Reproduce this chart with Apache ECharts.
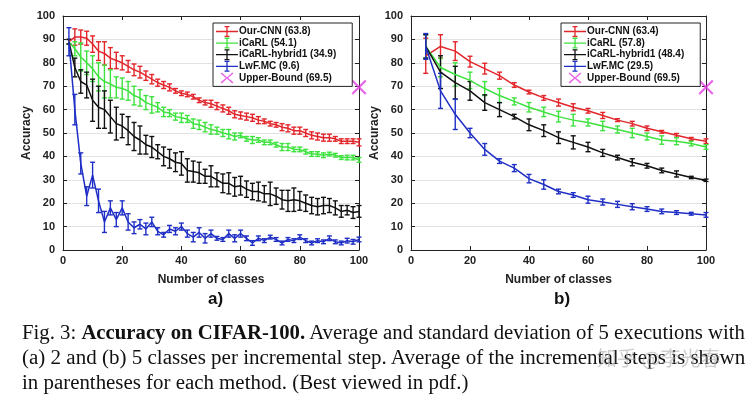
<!DOCTYPE html>
<html>
<head>
<meta charset="utf-8">
<script src="https://cdn.jsdelivr.net/npm/echarts@6/dist/echarts.min.js"></script>
<style>
  html, body { margin: 0; padding: 0; background: #fff; }
  #main { position: absolute; left: 0; top: 0; width: 753px; height: 398px; }
  #cap { position: absolute; left: 22px; top: 320px; width: 723px; font-family: 'Liberation Serif', serif; font-size: 20px; line-height: 25px; color: #111; }
  #cap .ln { white-space: nowrap; display: inline-block; transform-origin: 0 0; }
  #wm { position: absolute; left: 597px; top: 343px; font-family: 'Noto Sans CJK SC', sans-serif; font-size: 20px; color: rgba(165,165,165,0.55); }
</style>
</head>
<body>
<div id="main"></div>
<div id="cap">
  <span class="ln">Fig. 3: <b>Accuracy on CIFAR-100.</b> Average and standard deviation of 5 executions with</span><br>
  <span class="ln">(a) 2 and (b) 5 classes per incremental step. Average of the incremental steps is shown</span><br>
  <span class="ln">in parentheses for each method. (Best viewed in pdf.)</span>
</div>
<div id="wm">知乎 @李光春</div>
<script>
// 数据 a) 每步 2 类
var xA = [2,4,6,8,10,12,14,16,18,20,22,24,26,28,30,32,34,36,38,40,42,44,46,48,50,
          52,54,56,58,60,62,64,66,68,70,72,74,76,78,80,82,84,86,88,90,92,94,96,98,100];
var ourA = [89,91,91,90.5,88,85,84,82,81,80, 78.5,77,76,74.5,73,71.5,70.5,69.5,68,67,
            66.5,65.5,64,63,62.5,61.5,60.5,59.5,58,57.5, 57,56.5,55.5,55,54,53.5,52.5,52,51,51,
            50,49,48.5,48,48,47.5,46.5,46.5,46.5,46];
var ourAErr = [1,3.5,3,3,3.5,4,5,4.5,3.5,3, 2.5,2.5,2.5,2,2,1.5,1.5,1.5,1,1,
               1,1,1,1,1.5,1.5,1.5,1.5,1.5,1.5, 1.5,1.5,1.5,1,1,1,1.5,1.5,1.5,1.5,
               1.5,1.5,1.5,1.5,1.5,1,1,1,1,1.5];
var icarlA = [89,86,82.5,80,77.5,74,72,71,69.5,69, 68,66,65,63,62,61,59,58.5,57,56.5,
              56,54,53.5,52.5,51.5,51,50,49.5,48.5,49, 47.5,47,47,46,46,45,44,44,43,43,
              42,41,41,40.5,41,40.5,39.5,39.5,39.5,38.5];
var icarlAErr = [1,3,6,5,5.5,6,7,6,4.5,4.5, 4,4,3.5,3,3.5,2,2,1.5,1.5,2,
                 1.5,2,2,2,2,1.5,1.5,2,1.5,1, 1,1.5,1,1,1,1,1.5,1.5,1,1,
                 1,1,1,1,0.8,0.8,0.8,1,1,1];
var hybA = [89,78,72,70.5,64,61,60,57,54,53, 51,48.5,47,45,44,42,40,39,37.5,37,
            34,33.5,33,31.5,31.5,30,28.5,28.5,27,27.5, 26,25,25,24,24,23,21.5,21,21.5,21,
            20,19,18.5,19,19,18,16.5,17,16,16.5];
var hybAErr = [1,4,5,5.5,9,9,8,7,7,5, 6,6,6,4,4.5,3,4,4,4,5,
               5,4.5,4.5,3,4.5,3,4,4.5,4,4, 3.5,3.5,4,3.5,5,3.5,4,4.5,5,4,
               3.5,3.5,3.5,3.5,3,3,2.5,2,2.5,2.5];
var lwfA = [89,60,37,23,32,21,12,18,13,18, 12,9.5,11,9,12,8,6.5,9,8,10,
            7,5.5,7.5,5,7,5,4.5,7,5,7, 5,3,5,4,5.5,4.5,3,4.5,4,5.5,
            4,3,4,3.5,5,3.5,3,4,3.5,4.5];
var lwfAErr = [6,6.5,4.5,4,5.5,5,4.5,3,3,3, 3.5,2.5,2,2.5,2,1.5,1,1.5,1.5,1.5,
               1.5,2,2,2,1.5,0.8,0.8,1.5,1.5,1.5, 1,1,1,0.8,0.8,0.8,0.8,0.8,0.8,1,
               0.8,0.8,0.8,0.8,1,0.8,0.8,1,1,1];

// 数据 b) 每步 5 类
var xB = [5,10,15,20,25,30,35,40,45,50,55,60,65,70,75,80,85,90,95,100];
var ourB = [83,87,85,80.5,77.5,74.5,70.5,67.5,65,63,61,59.5,57.5,55.5,54,52,50.5,49,47.5,46.5];
var ourBErr = [7.5,5,4,2.3,2.3,1.5,1,0.8,1,1.5,1.5,1,1.3,0.6,1,1,0.6,0.8,0.6,1];
var icarlB = [87,78,75,72.5,69,66,63.5,61,59,57,55.5,54.5,53,51.5,50,48.5,47,46.5,45.5,44];
var icarlBErr = [5,4,5,3.5,3,3,1.5,2,2,2.3,2.5,1.5,2,1.5,2,1.5,1.8,1.5,1,1];
var hybB = [87,76,71.5,68,63,60,57,53.5,51,48,46,44,41.5,39.5,37.5,36,34,32.5,31,29.8];
var hybBErr = [5,7,7,4,3.3,3,1,2.5,2.5,2.5,2.8,2,1.5,1,1.5,1,1,1.3,0.5,0.5];
var lwfB = [87,68,58,50,43,38,35,30.5,28,25,23.5,21.5,20.5,19.5,18.5,17.5,16.5,16,15.5,15];
var lwfBErr = [5.5,7.5,6.5,2,2.5,1,1.5,1.8,2,1,1,1.5,1.3,1.3,1.3,1,1,0.8,0.6,1];

var upperX = 100, upperY = 69.5;

var namesA = ['Our-CNN (63.8)', 'iCaRL (54.1)', 'iCaRL-hybrid1 (34.9)', 'LwF.MC (9.6)'];
var namesB = ['Our-CNN (63.4)', 'iCaRL (57.8)', 'iCaRL-hybrid1 (48.4)', 'LwF.MC (29.5)'];
var upperName = 'Upper-Bound (69.5)';
var colors = ['#e3262b', '#3ee23e', '#111111', '#1f2fc6'];
var magenta = '#e43be4';

var errIcon = 'path://M0,5.3h24v1.4H0z M11.3,0h1.4v12h-1.4z M9.3,0h5.4v1.4H9.3z M9.3,10.6h5.4v1.4H9.3z';
var crossIcon = 'path://M0,1.2L1.2,0L6,4.8L10.8,0L12,1.2L7.2,6L12,10.8L10.8,12L6,7.2L1.2,12L0,10.8L4.8,6Z';
// 图例里的叉号左右留白，保证宽高比与误差棒图标一致
var crossLegend = 'path://M0,0h0.01v0.01H0z M24,12h0.01v0.01H24z M5,1.2L6.2,0L12,5.2L17.8,0L19,1.2L13.2,6L19,10.8L17.8,12L12,6.8L6.2,12L5,10.8L10.8,6Z';

var myChart = echarts.init(document.getElementById('main'));

function errRender(params, api) {
    var x = api.value(0);
    var lo = api.coord([x, api.value(2)]);
    var hi = api.coord([x, api.value(3)]);
    var w = 2.5;
    var st = { stroke: api.visual('color'), lineWidth: 1.4 };
    return {
        type: 'group',
        children: [
            { type: 'line', shape: { x1: lo[0], y1: lo[1], x2: hi[0], y2: hi[1] }, style: st },
            { type: 'line', shape: { x1: lo[0] - w, y1: lo[1], x2: lo[0] + w, y2: lo[1] }, style: st },
            { type: 'line', shape: { x1: hi[0] - w, y1: hi[1], x2: hi[0] + w, y2: hi[1] }, style: st }
        ]
    };
}

function makeSeries(name, xs, ys, errs, color, axisIdx) {
    var pts = xs.map(function (x, i) { return [x, ys[i]]; });
    var bars = xs.map(function (x, i) { return [x, ys[i], ys[i] - errs[i], ys[i] + errs[i]]; });
    return [
        {
            name: name, type: 'line', xAxisIndex: axisIdx, yAxisIndex: axisIdx,
            data: pts, showSymbol: false, symbol: 'none',
            lineStyle: { color: color, width: 1.5 }, itemStyle: { color: color }
        },
        {
            name: name, type: 'custom', xAxisIndex: axisIdx, yAxisIndex: axisIdx,
            renderItem: errRender, data: bars, encode: { x: 0, y: [1, 2, 3] },
            itemStyle: { color: color }
        }
    ];
}

function upperSeries(axisIdx) {
    return {
        name: upperName, type: 'scatter', xAxisIndex: axisIdx, yAxisIndex: axisIdx,
        data: [[upperX, upperY]], symbol: crossIcon, symbolSize: 15, clip: false,
        itemStyle: { color: magenta }, z: 5
    };
}

var labelFont = { fontFamily: 'Liberation Sans', fontWeight: 'bold', fontSize: 11, color: '#222' };
var nameFont = { fontFamily: 'Liberation Sans', fontWeight: 'bold', fontSize: 12, color: '#222' };
var blackLine = { show: true, onZero: false, lineStyle: { color: '#222', width: 1 } };
var inTick = { show: true, inside: true, length: 4, lineStyle: { color: '#222' } };

function xAxes(g) {
    return [
        { gridIndex: g, type: 'value', min: 0, max: 100, interval: 20, position: 'bottom',
          axisLine: blackLine, axisTick: inTick, splitLine: { show: false },
          axisLabel: Object.assign({ margin: 5 }, labelFont),
          name: 'Number of classes', nameLocation: 'middle', nameGap: 24, nameTextStyle: nameFont },
        { gridIndex: g, type: 'value', min: 0, max: 100, interval: 20, position: 'top',
          axisLine: blackLine, axisTick: inTick, axisLabel: { show: false }, splitLine: { show: false } }
    ];
}
function yAxes(g, gap) {
    return [
        { gridIndex: g, type: 'value', min: 0, max: 100, interval: 10, position: 'left',
          axisLine: blackLine, axisTick: inTick,
          splitLine: { show: true, lineStyle: { color: '#e2e2e2', width: 1 } },
          axisLabel: Object.assign({ margin: 8 }, labelFont),
          name: 'Accuracy', nameLocation: 'middle', nameGap: gap, nameTextStyle: nameFont },
        { gridIndex: g, type: 'value', min: 0, max: 100, interval: 10, position: 'right',
          axisLine: blackLine, axisTick: inTick, axisLabel: { show: false }, splitLine: { show: false } }
    ];
}

function legendFor(names, left) {
    var data = names.map(function (n) { return { name: n, icon: errIcon }; });
    data.push({ name: upperName, icon: crossLegend });
    return {
        orient: 'vertical', left: left, top: 23, data: data,
        itemWidth: 22, itemHeight: 11, itemGap: 0.6,
        padding: [3, 16, 3, 3],
        backgroundColor: '#fff', borderColor: '#222', borderWidth: 1,
        itemStyle: { borderWidth: 0 },
        textStyle: { fontFamily: 'Liberation Sans', fontWeight: 'bold', fontSize: 10, color: '#111', padding: [0, 0, 0, -4] },
        selectedMode: false, z: 10
    };
}

var series = [];
[ourA, icarlA, hybA, lwfA].forEach(function (ys, k) {
    var errs = [ourAErr, icarlAErr, hybAErr, lwfAErr][k];
    series = series.concat(makeSeries(namesA[k], xA, ys, errs, colors[k], 0));
});
series.push(upperSeries(0));
[ourB, icarlB, hybB, lwfB].forEach(function (ys, k) {
    var errs = [ourBErr, icarlBErr, hybBErr, lwfBErr][k];
    series = series.concat(makeSeries(namesB[k], xB, ys, errs, colors[k], 2));
});
series.push(upperSeries(2));

option = {
    animation: false,
    backgroundColor: '#fff',
    title: [
        { text: 'a)', left: 203, top: 286, textStyle: { fontFamily: 'Liberation Sans', fontWeight: 'bold', fontSize: 17, color: '#111' } },
        { text: 'b)', left: 549, top: 286, textStyle: { fontFamily: 'Liberation Sans', fontWeight: 'bold', fontSize: 17, color: '#111' } }
    ],
    grid: [
        { left: 63, right: 394, top: 16, bottom: 148 },
        { left: 411, right: 47, top: 16, bottom: 148 }
    ],
    xAxis: xAxes(0).concat(xAxes(1)),
    yAxis: yAxes(0, 27).concat(yAxes(1, 30)),
    legend: [legendFor(namesA, 213), legendFor(namesB, 561)],
    series: series
};

myChart.setOption(option);

// 标题说明文字按两端对齐缩放
var lines = document.querySelectorAll('#cap .ln');
var s1 = 723 / lines[0].offsetWidth, s2 = 723 / lines[1].offsetWidth;
lines[0].style.transform = 'scaleX(' + s1 + ')';
lines[1].style.transform = 'scaleX(' + s2 + ')';
lines[2].style.transform = 'scaleX(' + ((s1 + s2) / 2) + ')';
</script>
</body>
</html>
